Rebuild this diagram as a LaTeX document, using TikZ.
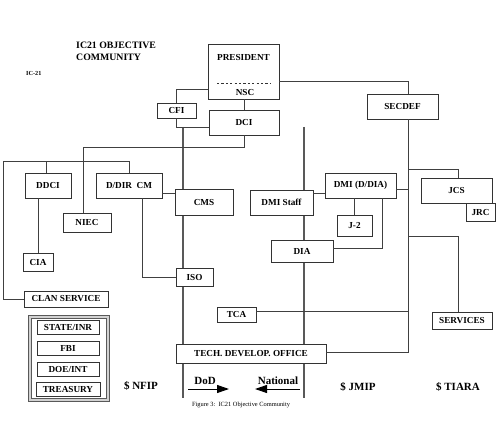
\documentclass[tikz,border=0pt]{standalone}
\usepackage{fontspec}
\setmainfont{Liberation Serif}
\usetikzlibrary{arrows.meta,calc}
\newcommand\ocbox[6]{\node[box, minimum width={(#4)-(#2)}, minimum height={(#5)-(#3)}] (#1) at ({((#2)+(#4))/2},{((#3)+(#5))/2}) {#6};}
\begin{document}
\begin{tikzpicture}[x=1pt,y=-1pt,
  box/.style={draw=black!80, line width=0.8pt, fill=white, inner sep=0pt, font=\bfseries\fontsize{9.2}{10}\selectfont},
  txt/.style={inner sep=0pt, font=\bfseries\fontsize{9.2}{10}\selectfont},
  conn/.style={draw=black!75, line width=0.7pt},
  rail/.style={draw=gray!70!black, line width=2.2pt},
  lbl/.style={inner sep=0pt, font=\bfseries\fontsize{11}{12}\selectfont},
  flow/.style={line width=1pt, -{Triangle[length=12pt,width=8pt]}},
]
\useasboundingbox (0,0) rectangle (500,422);
% helper coordinates
\coordinate (y81) at (0,81);
\coordinate (y89) at (0,89);
\coordinate (y127) at (0,127);
\coordinate (j1) at (83,147);
\coordinate (lft) at (3,161);
\coordinate (y169) at (0,169);
\coordinate (y189) at (0,189);
\coordinate (y193) at (0,193);
\coordinate (y236) at (0,236);
\coordinate (y248) at (0,248);
\coordinate (y311) at (0,311);
\coordinate (y352) at (0,352);
\coordinate (sx) at (408,0);
\coordinate (jx) at (458,0);
\coordinate (railLt) at (183,127);
\coordinate (railLb) at (183,398);
\coordinate (railRt) at (304,127);
\coordinate (railRb) at (304,398);
% rails
\draw[rail] (railLt) -- (railLb);
\draw[rail] (railRt) -- (railRb);
% title
\node[inner sep=0pt, anchor=north west, align=left, font=\bfseries\fontsize{9.8}{11.5}\selectfont] (title) at (76,42) {IC21 OBJECTIVE\\COMMUNITY};
\node[inner sep=0pt, anchor=west, font=\bfseries\fontsize{6.2}{7}\selectfont] (ic21) at (26,73) {IC-21};
% boxes
\ocbox{president}{208}{44}{279}{99}{}
\node[txt] (prestxt) at (243.5,58) {PRESIDENT};
\node[txt] (nsctxt) at (245,93) {NSC};
\draw[black!80, line width=0.8pt, dash pattern=on 2.2pt off 2.2pt] (217,83) -- (271,83);
\ocbox{dci}{209}{110}{279}{135}{DCI}
\ocbox{cfi}{157}{103}{196}{118}{CFI}
\ocbox{secdef}{367}{94}{438}{119}{SECDEF}
\ocbox{ddci}{25}{173}{71}{198}{DDCI}
\ocbox{ddircm}{96}{173}{162}{198}{D/DIR\ \ CM}
\ocbox{niec}{63}{213}{111}{232}{NIEC}
\ocbox{cia}{23}{253}{53}{271}{CIA}
\ocbox{cms}{175}{189}{233}{215}{CMS}
\ocbox{iso}{176}{268}{213}{286}{ISO}
\ocbox{clan}{24}{291}{108}{307}{CLAN SERVICE}
\ocbox{dmistaff}{250}{190}{313}{215}{DMI Staff}
\ocbox{dmi}{325}{173}{396}{198}{DMI (D/DIA)}
\ocbox{jtwo}{337}{215}{372}{236}{J-2}
\ocbox{dia}{271}{240}{333}{262}{DIA}
\ocbox{jcs}{421}{178}{492}{203}{JCS}
\ocbox{jrc}{466}{203}{495}{221}{JRC}
\ocbox{services}{432}{312}{492}{329}{SERVICES}
\ocbox{tca}{217}{307}{256}{322}{TCA}
\ocbox{tdo}{176}{344}{326}{363}{TECH. DEVELOP. OFFICE}
% legend
\node[draw=black!65, double=gray!35, double distance=2.2pt, line width=0.7pt, minimum width=78pt, minimum height=83pt, inner sep=0pt] (legend) at (69,358.5) {};
\ocbox{state}{37}{320}{99}{334}{STATE/INR}
\ocbox{fbi}{37}{341}{99}{355}{FBI}
\ocbox{doe}{37}{362}{99}{376}{DOE/INT}
\ocbox{treasury}{36}{382}{100}{396}{TREASURY}
% connectors
\draw[conn] (cfi.north) |- (president.west |- y89);
\draw[conn] (cfi.south) |- (dci.west |- y127);
\draw[conn] (dci.north) -- (dci.north |- president.south);
\draw[conn] (dci.south) |- (j1) -- (j1 |- niec.north);
\draw[conn] (ddircm.north) |- (lft) |- (clan.west);
\draw[conn] ([xshift=-2pt]ddci.north) -- ([xshift=-2pt]ddci.north |- lft);
\draw[conn] (cia.north) -- (cia.north |- ddci.south);
\draw[conn] (ddircm.east |- y193) -- (cms.west |- y193);
\draw[conn] ([xshift=13pt]ddircm.south) |- (iso.west);
\draw[conn] (president.east |- y81) -| (sx |- secdef.north);
\draw[conn] (sx |- secdef.south) |- (tdo.east |- y352);
\draw[conn] (dmi.east |- y189) -- (sx |- y189);
\draw[conn] (sx |- y169) -| (jx |- jcs.north);
\draw[conn] (sx |- y236) -| (jx |- services.north);
\draw[conn] (tca.east |- y311) -- (sx |- y311);
\draw[conn] (dmistaff.east |- y193) -- (dmi.west |- y193);
\draw[conn] (jtwo.north) -- (jtwo.north |- dmi.south);
\draw[conn] ([xshift=22pt]dmi.south) |- (dia.east |- y248);
% bottom labels
\node[lbl] (nfip) at (141,386) {\$ NFIP};
\node[lbl] (jmip) at (358,387) {\$ JMIP};
\node[lbl] (tiara) at (458,387) {\$ TIARA};
\node[lbl] (dod) at (205,381) {DoD};
\node[lbl] (natl) at (278,381) {National};
\coordinate (dodA) at (188,389);
\coordinate (dodB) at (229,389);
\coordinate (natA) at (300,389);
\coordinate (natB) at (255,389);
\draw[flow] (dodA) -- (dodB);
\draw[flow] (natA) -- (natB);
\node[inner sep=0pt, font=\fontsize{6.4}{7}\selectfont] (caption) at (241,405) {Figure 3:\ \ IC21 Objective Community};
\end{tikzpicture}
\end{document}
